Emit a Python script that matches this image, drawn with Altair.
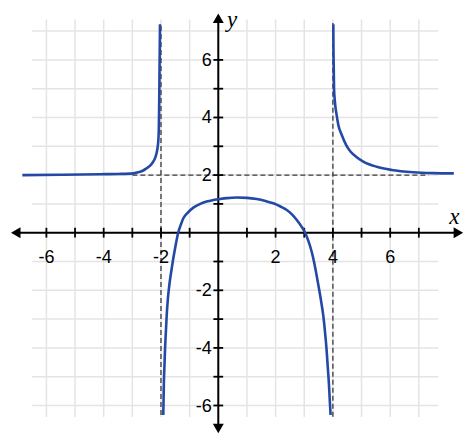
import altair as alt
import pandas as pd

# ---- data ----
left_x = [-6.84, -5.5, -4.13, -3.5, -2.97, -2.8, -2.62, -2.5, -2.38, -2.29, -2.21, -2.16,
          -2.12, -2.09, -2.075, -2.065, -2.055, -2.045, -2.035]
left_y = [2.00, 2.01, 2.03, 2.04, 2.06, 2.10, 2.16, 2.24, 2.33, 2.44, 2.58, 2.74,
          2.95, 3.25, 3.65, 4.30, 5.20, 6.20, 7.24]

mid_x = [-1.92, -1.91, -1.90, -1.88, -1.86, -1.83, -1.80, -1.76, -1.71, -1.65, -1.59, -1.50,
         -1.40, -1.31, -1.22, -1.08, -0.87, -0.65, -0.41, -0.20, 0.0, 0.30, 0.64, 1.00,
         1.34, 1.65, 1.92, 2.17, 2.39, 2.58, 2.74, 2.90, 3.03, 3.15, 3.26, 3.35, 3.43,
         3.52, 3.61, 3.67, 3.73, 3.78, 3.82, 3.86, 3.89, 3.92]
mid_y = [-6.33, -5.80, -5.23, -4.65, -4.07, -3.45, -2.86, -2.30, -1.82, -1.40, -1.01, -0.50,
         0.0, 0.27, 0.50, 0.68, 0.87, 0.99, 1.08, 1.13, 1.16, 1.20, 1.22, 1.21,
         1.17, 1.10, 1.02, 0.91, 0.79, 0.63, 0.44, 0.22, 0.0, -0.30, -0.66, -1.05, -1.47,
         -1.97, -2.51, -2.92, -3.50, -4.07, -4.65, -5.23, -5.80, -6.33]

right_x = [4.015, 4.02, 4.03, 4.04, 4.07, 4.13, 4.19, 4.31, 4.46, 4.62, 4.81, 5.06, 5.53,
           6.05, 6.81, 7.5, 8.22]
right_y = [7.24, 6.40, 5.71, 5.01, 4.55, 4.09, 3.74, 3.39, 3.05, 2.81, 2.64, 2.47, 2.29,
           2.18, 2.10, 2.07, 2.06]

grid_x = list(range(-6, 8))
grid_y = list(range(-6, 8))
grid_x_span = [-6.5, 7.68]
grid_y_span = [-6.4, 7.4]

x_ticks = [v for v in range(-6, 8) if v != 0]
y_ticks = [v for v in range(-6, 7) if v != 0]
x_labels = [-6, -4, -2, 2, 4, 6]
y_labels = [-6, -4, -2, 2, 4, 6]

vert_asymptotes = [-2, 4]
vert_asym_span = [[-6.33, 7.2], [-6.39, 7.28]]
horiz_asymptote = 2
horiz_asym_span = [-3.0, 7.34]

x_axis_span = [-7.07, 8.38]
y_axis_span = [-6.80, 7.45]
tick_half = 0.17

# ---- scales ----
xs = alt.Scale(domain=[-7.34, 8.646], nice=False, zero=False)
ys = alt.Scale(domain=[-7.059, 7.802], nice=False, zero=False)

def X(f):
    return alt.X(f, type="quantitative", scale=xs, axis=None)

def Y(f):
    return alt.Y(f, type="quantitative", scale=ys, axis=None)

# grid
vgrid = pd.DataFrame({"x": grid_x, "y1": grid_y_span[0], "y2": grid_y_span[1]})
hgrid = pd.DataFrame({"y": grid_y, "x1": grid_x_span[0], "x2": grid_x_span[1]})
grid_color = "#e4e4e4"
g1 = alt.Chart(vgrid).mark_rule(color=grid_color, strokeWidth=1.5).encode(
    x=X("x"), y=Y("y1"), y2="y2")
g2 = alt.Chart(hgrid).mark_rule(color=grid_color, strokeWidth=1.5).encode(
    y=Y("y"), x=X("x1"), x2="x2")

# asymptotes
va = pd.DataFrame({"x": vert_asymptotes,
                   "y1": [s[0] for s in vert_asym_span],
                   "y2": [s[1] for s in vert_asym_span]})
ha = pd.DataFrame({"y": [horiz_asymptote], "x1": [horiz_asym_span[0]], "x2": [horiz_asym_span[1]]})
dash = dict(color="#3a3a3a", strokeWidth=1.3, strokeDash=[5, 3])
a1 = alt.Chart(va).mark_rule(**dash).encode(x=X("x"), y=Y("y1"), y2="y2")
a2 = alt.Chart(ha).mark_rule(**dash).encode(y=Y("y"), x=X("x1"), x2="x2")

# axes
xaxis = pd.DataFrame({"y": [0], "x1": [x_axis_span[0]], "x2": [x_axis_span[1]]})
yaxis = pd.DataFrame({"x": [0], "y1": [y_axis_span[0]], "y2": [y_axis_span[1]]})
ax1 = alt.Chart(xaxis).mark_rule(color="black", strokeWidth=2).encode(y=Y("y"), x=X("x1"), x2="x2")
ax2 = alt.Chart(yaxis).mark_rule(color="black", strokeWidth=2).encode(x=X("x"), y=Y("y1"), y2="y2")

xt = pd.DataFrame({"x": x_ticks, "y1": -tick_half, "y2": tick_half})
yt = pd.DataFrame({"y": y_ticks, "x1": -tick_half, "x2": tick_half})
t1 = alt.Chart(xt).mark_rule(color="black", strokeWidth=1.8).encode(x=X("x"), y=Y("y1"), y2="y2")
t2 = alt.Chart(yt).mark_rule(color="black", strokeWidth=1.8).encode(y=Y("y"), x=X("x1"), x2="x2")

arrows = pd.DataFrame({
    "x": [x_axis_span[1], x_axis_span[0], 0, 0],
    "y": [0, 0, y_axis_span[1], y_axis_span[0]],
    "shape": ["triangle-right", "triangle-left", "triangle-up", "triangle-down"],
})
arr = alt.Chart(arrows).mark_point(filled=True, color="black", size=120, opacity=1).encode(
    x=X("x"), y=Y("y"),
    shape=alt.Shape("shape:N", scale=None, legend=None))

# curve
curve_df = pd.concat([
    pd.DataFrame({"x": left_x, "y": left_y, "branch": "left"}),
    pd.DataFrame({"x": mid_x, "y": mid_y, "branch": "mid"}),
    pd.DataFrame({"x": right_x, "y": right_y, "branch": "right"}),
])
curve = alt.Chart(curve_df).mark_line(color="#2448a5", strokeWidth=2.6,
                                      interpolate="monotone").encode(
    x=X("x"), y=Y("y"), detail="branch:N", order="x:Q")

# labels
xl = pd.DataFrame({"x": x_labels, "y": -1.06, "t": [str(v) for v in x_labels]})
yl = pd.DataFrame({"y": y_labels, "x": -0.23, "t": [str(v) for v in y_labels]})
lab_font = "Liberation Sans"
l1 = alt.Chart(xl).mark_text(font=lab_font, fontSize=18, align="center",
                             baseline="alphabetic", color="black").encode(
    x=X("x"), y=Y("y"), text="t:N")
l2 = alt.Chart(yl).mark_text(font=lab_font, fontSize=18, align="right",
                             baseline="middle", color="black", dy=1).encode(
    x=X("x"), y=Y("y"), text="t:N")

names = pd.DataFrame({"x": [8.24, 0.48], "y": [0.30, 7.15], "t": ["x", "y"]})
l3 = alt.Chart(names).mark_text(font="Liberation Serif", fontStyle="italic", fontSize=23,
                                align="center", baseline="alphabetic", color="black").encode(
    x=X("x"), y=Y("y"), text="t:N")

chart = alt.layer(g1, g2, a1, a2, ax1, ax2, t1, t2, arr, l1, l2, l3, curve).properties(
    width=458, height=428,
    autosize=alt.AutoSizeParams(type="none"),
    padding=0,
    background="white",
).configure_view(stroke=None)

chart.save("out.html", embed_options={"renderer": "svg", "actions": False})
